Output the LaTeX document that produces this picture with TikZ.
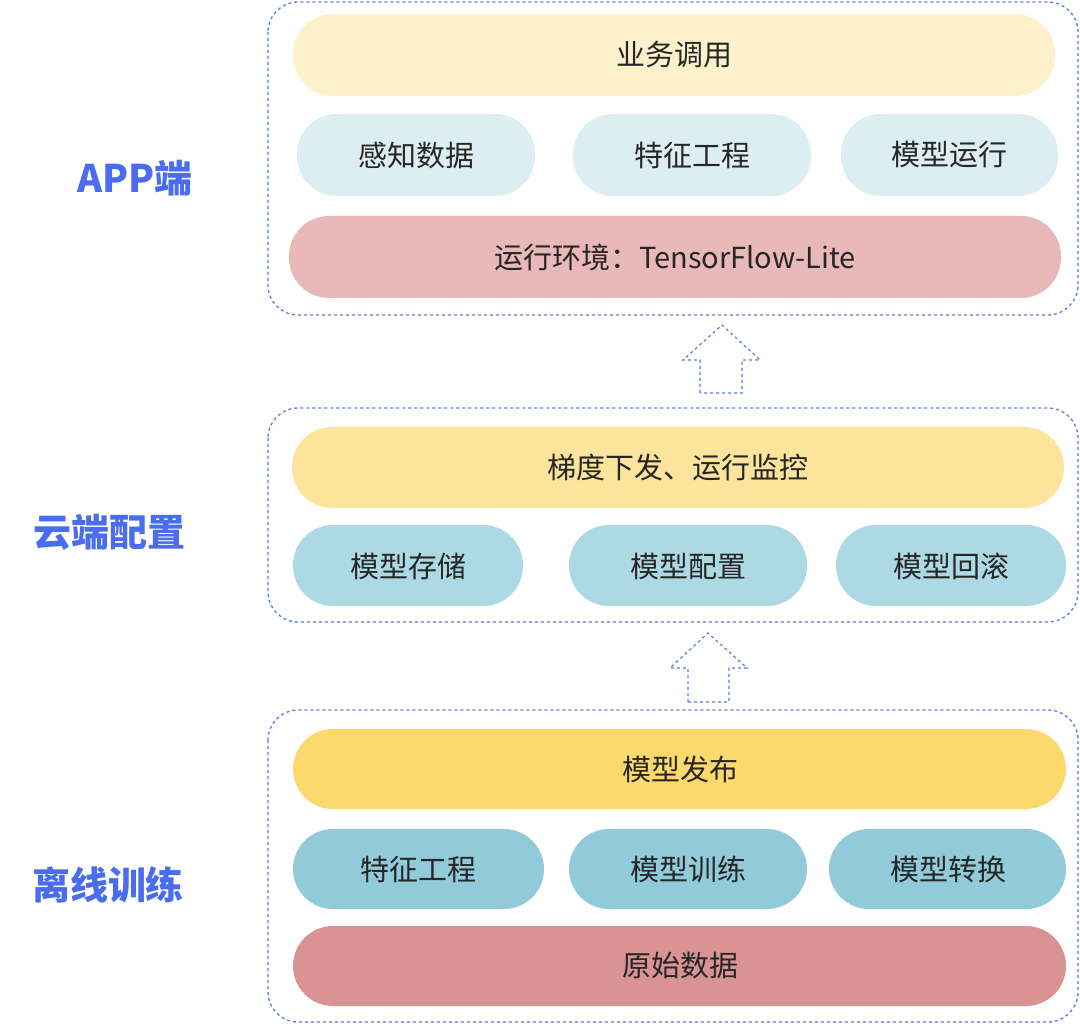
\documentclass[tikz,border=0pt]{standalone}
\usepackage{fontspec}
\setmainfont{Noto Sans CJK SC}
\usepackage{tikz}
\definecolor{dashblue}{HTML}{5B7BE0}
\definecolor{labblue}{HTML}{4A6CF0}
\definecolor{yA}{HTML}{FDF1CC}
\definecolor{yB}{HTML}{FCE49C}
\definecolor{yC}{HTML}{FCD96C}
\definecolor{bA}{HTML}{DCEEF2}
\definecolor{bB}{HTML}{ACD9E3}
\definecolor{bC}{HTML}{91CBD9}
\definecolor{rA}{HTML}{E8B9B8}
\definecolor{rC}{HTML}{D99392}
\tikzset{
  pill/.style={rounded corners=40pt, inner sep=0pt, text=black!85,
    font=\fontsize{29}{29}\selectfont},
  frame/.style={draw=dashblue, dashed, line width=1.3pt, rounded corners=30pt},
  side/.style={text=labblue, font=\fontsize{38}{38}\selectfont\bfseries},
  uparrow/.style={draw=dashblue, dashed, line width=1.2pt}
}
\newcommand{\pillbox}[6]{% name, x1, y1, x2, y2, fill + text
  \path[pill, fill=#6] (#2,#3) rectangle (#4,#5);
  \node[pill] (#1) at ({(#2+#4)/2},{(#3+#5)/2}) {#6};}
\begin{document}
\begin{tikzpicture}[x=1pt,y=-1pt]
\useasboundingbox (0,0) rectangle (1080,1024);

% APP
\draw[frame] (268,2) rectangle (1078,315);
\path[pill, fill=yA] (293,14) rectangle (1055,96);
\node[pill] (call) at (674,55) {业务调用};
\path[pill, fill=bA] (297,114) rectangle (535,196);
\node[pill] (sense) at (416,155) {感知数据};
\path[pill, fill=bA] (573,114) rectangle (811,196);
\node[pill] (feat1) at (692,155) {特征工程};
\path[pill, fill=bA] (841,114) rectangle (1058,196);
\node[pill] (run) at (949,155) {模型运行};
\path[pill, fill=rA] (289,216) rectangle (1061,298);
\node[pill] (env) at (675,257) {运行环境：TensorFlow-Lite};
\node[side] (app) at (135,178) {APP端};

% arrow 1
\draw[uparrow] (700,393) -- (700,360) -- (683,360) -- (722,325) -- (760,360)
  -- (742,360) -- (742,393) -- cycle;

% cloud
\draw[frame] (268,408) rectangle (1078,622);
\path[pill, fill=yB] (292,427) rectangle (1064,508);
\node[pill] (gray) at (678,467) {梯度下发、运行监控};
\path[pill, fill=bB] (293,525) rectangle (523,606);
\node[pill] (store) at (408,566) {模型存储};
\path[pill, fill=bB] (569,525) rectangle (807,606);
\node[pill] (conf) at (688,566) {模型配置};
\path[pill, fill=bB] (836,525) rectangle (1066,606);
\node[pill] (roll) at (951,566) {模型回滚};
\node[side] (cloud) at (110,532) {云端配置};

% arrow 2
\draw[uparrow] (688,702) -- (688,668) -- (670,668) -- (708,633) -- (747,668)
  -- (729,668) -- (729,702) -- cycle;

% offline
\draw[frame] (268,710) rectangle (1078,1022);
\path[pill, fill=yC] (293,729) rectangle (1066,809);
\node[pill] (pub) at (680,769) {模型发布};
\path[pill, fill=bC] (293,829) rectangle (544,909);
\node[pill] (feat2) at (418,869) {特征工程};
\path[pill, fill=bC] (569,829) rectangle (807,909);
\node[pill] (train) at (688,869) {模型训练};
\path[pill, fill=bC] (829,829) rectangle (1066,909);
\node[pill] (conv) at (948,869) {模型转换};
\path[pill, fill=rC] (293,926) rectangle (1066,1006);
\node[pill] (raw) at (680,966) {原始数据};
\node[side] (off) at (108,885) {离线训练};
\end{tikzpicture}
\end{document}
